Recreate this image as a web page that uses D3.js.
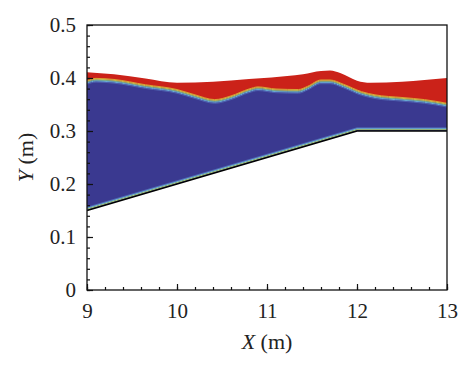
<!DOCTYPE html>
<html>
<head>
<meta charset="utf-8">
<script src="https://cdn.jsdelivr.net/npm/d3@7"></script>
<style>
body { margin: 0; background: #fff; }
svg { display: block; }
svg text { font-family: "Liberation Serif", "Times New Roman", Times, serif !important; fill: #222; }
</style>
</head>
<body>
<svg width="474" height="370"></svg>
<script>
// free surface (top of the red layer)
var surfaceX = [9.0, 9.3, 9.65, 10.0, 10.4, 10.8, 11.05, 11.4, 11.6, 11.7, 11.82, 12.0, 12.15, 12.5, 13.0];
var surfaceY = [0.411, 0.407, 0.399, 0.391, 0.393, 0.398, 0.401, 0.407, 0.413, 0.414, 0.409, 0.395, 0.391, 0.393, 0.400];

// interface between red and blue layers
var interfaceX = [9.0, 9.1, 9.3, 9.65, 10.0, 10.2, 10.42, 10.6, 10.8, 10.9, 11.1, 11.35, 11.45, 11.6, 11.7, 11.85, 12.05, 12.2, 12.5, 12.75, 13.0];
var interfaceY = [0.393, 0.397, 0.395, 0.385, 0.376, 0.366, 0.357, 0.364, 0.377, 0.381, 0.377, 0.376, 0.382, 0.394, 0.394, 0.386, 0.372, 0.366, 0.361, 0.357, 0.350];

// bed profile
var bedX = [9, 12, 13];
var bedY = [0.15, 0.30, 0.30];

var xTicks = [9, 10, 11, 12, 13];
var yTicks = [0, 0.1, 0.2, 0.3, 0.4, 0.5];

var svg = d3.select("svg");
var margin = {top: 25, right: 27, bottom: 80, left: 87};
var width = 474 - margin.left - margin.right;
var height = 370 - margin.top - margin.bottom;

var xScale = d3.scaleLinear().domain([9, 13]).range([0, width]);
var yScale = d3.scaleLinear().domain([0, 0.5]).range([height, 0]);

var g = svg.append("g").attr("transform", "translate(" + margin.left + "," + margin.top + ")");

svg.append("defs").append("clipPath").attr("id", "plotclip")
  .append("rect").attr("width", width).attr("height", height);

var plot = g.append("g").attr("clip-path", "url(#plotclip)");

var surface = surfaceX.map(function(x, i) { return [x, surfaceY[i]]; });
var iface = interfaceX.map(function(x, i) { return [x, interfaceY[i]]; });
var bed = bedX.map(function(x, i) { return [x, bedY[i]]; });

var areaDown = d3.area()
  .x(function(d) { return xScale(d[0]); })
  .y0(height)
  .y1(function(d) { return yScale(d[1]); })
  .curve(d3.curveMonotoneX);

var lineSmooth = d3.line()
  .x(function(d) { return xScale(d[0]); })
  .y(function(d) { return yScale(d[1]); })
  .curve(d3.curveMonotoneX);

var lineStraight = d3.line()
  .x(function(d) { return xScale(d[0]); })
  .y(function(d) { return yScale(d[1]); });

// red layer
plot.append("path").datum(surface).attr("d", areaDown).attr("fill", "#cb2219");

// blue layer
plot.append("path").datum(iface).attr("d", areaDown).attr("fill", "#3a3990");

// interface band (red -> yellow -> green -> cyan -> blue)
var bands = [
  {dy: -1.2, c: "#d9a032", w: 1.0},
  {dy: -0.3, c: "#c9cf52", w: 0.9},
  {dy: 0.6, c: "#83bf88", w: 0.9},
  {dy: 1.5, c: "#6aaed6", w: 1.0},
  {dy: 2.5, c: "#4f61b2", w: 1.0}
];
bands.forEach(function(b) {
  plot.append("path").datum(iface)
    .attr("d", lineSmooth)
    .attr("transform", "translate(0," + b.dy + ")")
    .attr("fill", "none")
    .attr("stroke", b.c)
    .attr("stroke-width", b.w);
});

// white below the bed
plot.append("path").datum(bed)
  .attr("d", d3.area()
    .x(function(d) { return xScale(d[0]); })
    .y0(height)
    .y1(function(d) { return yScale(d[1]); }))
  .attr("fill", "#fff");

// bed band
var bedBands = [
  {dy: -3.2, c: "#4f66b6", w: 1.0},
  {dy: -2.3, c: "#72bbd8", w: 1.1},
  {dy: -1.3, c: "#a3c56e", w: 1.0}
];
bedBands.forEach(function(b) {
  plot.append("path").datum(bed)
    .attr("d", lineStraight)
    .attr("transform", "translate(0," + b.dy + ")")
    .attr("fill", "none")
    .attr("stroke", b.c)
    .attr("stroke-width", b.w);
});

plot.append("path").datum(bed)
  .attr("d", lineStraight)
  .attr("fill", "none")
  .attr("stroke", "#000")
  .attr("stroke-width", 1.6);

// axes
var xMinor = d3.range(9, 13.001, 0.2);
var yMinor = d3.range(0, 0.5001, 0.02);

g.append("g").attr("transform", "translate(0," + height + ")")
  .call(d3.axisBottom(xScale).tickValues(xMinor).tickSize(-3).tickFormat(""))
  .call(function(s) { s.select(".domain").remove(); });

g.append("g").attr("transform", "translate(0," + height + ")")
  .call(d3.axisBottom(xScale).tickValues(xTicks).tickSizeInner(-6).tickSizeOuter(0).tickPadding(13).tickFormat(d3.format("d")))
  .call(function(s) {
    s.select(".domain").remove();
    s.selectAll("text").attr("font-size", "21px");
  });

g.append("g")
  .call(d3.axisLeft(yScale).tickValues(yMinor).tickSize(-3).tickFormat(""))
  .call(function(s) { s.select(".domain").remove(); });

g.append("g")
  .call(d3.axisLeft(yScale).tickValues(yTicks).tickSizeInner(-6).tickSizeOuter(0).tickPadding(11)
    .tickFormat(function(d) { return d === 0 ? "0" : d3.format(".1f")(d); }))
  .call(function(s) {
    s.select(".domain").remove();
    s.selectAll("text").attr("font-size", "21px");
  });

g.selectAll(".tick line").attr("stroke", "#111").attr("stroke-width", 1.2);

// frame
g.append("rect")
  .attr("width", width)
  .attr("height", height)
  .attr("fill", "none")
  .attr("stroke", "#111")
  .attr("stroke-width", 1.3);

// axis titles
var xt = svg.append("text")
  .attr("x", margin.left + width / 2)
  .attr("y", 349)
  .attr("text-anchor", "middle")
  .attr("font-size", "22px");
xt.append("tspan").attr("font-style", "italic").text("X");
xt.append("tspan").text(" (m)");

var yt = svg.append("text")
  .attr("transform", "translate(33," + (margin.top + height / 2) + ") rotate(-90)")
  .attr("text-anchor", "middle")
  .attr("font-size", "22px");
yt.append("tspan").attr("font-style", "italic").text("Y");
yt.append("tspan").text(" (m)");
</script>
</body>
</html>
